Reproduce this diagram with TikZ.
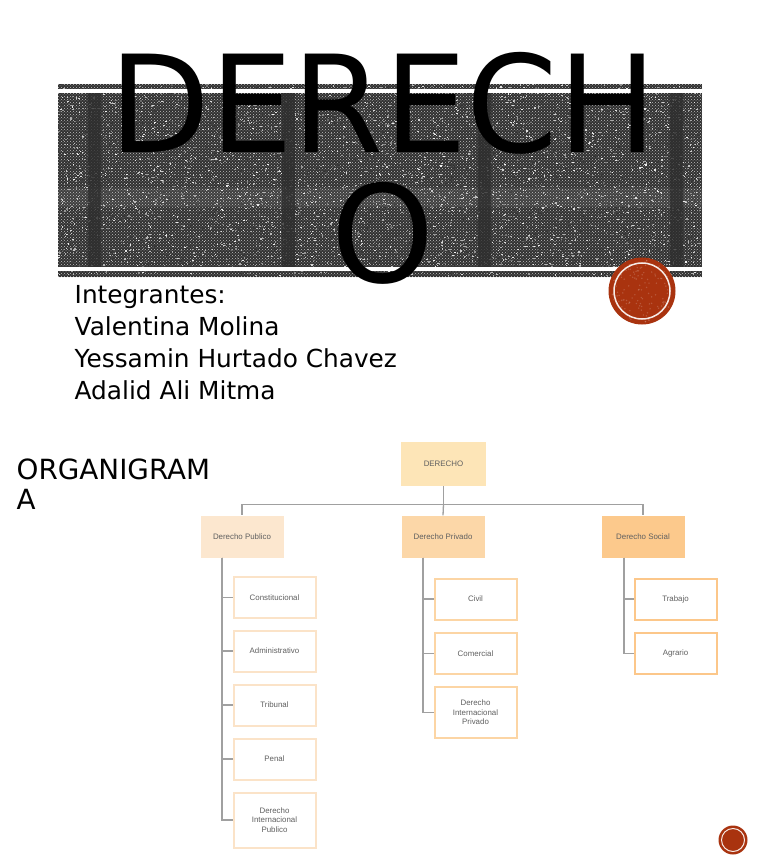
\documentclass[tikz,border=0pt]{standalone}
\usepackage{fontspec}
\setmainfont{DejaVu Sans}
\newfontfamily\arialf{Liberation Sans}
\usetikzlibrary{patterns,calc}
\definecolor{cRoot}{HTML}{FDE5B7}
\definecolor{cPub}{HTML}{FCE7CF}
\definecolor{cPriv}{HTML}{FCD7A8}
\definecolor{cSoc}{HTML}{FCC98C}
\definecolor{lPub}{HTML}{FBE3C8}
\definecolor{lPriv}{HTML}{FCD5A4}
\definecolor{lSoc}{HTML}{FCC78A}
\definecolor{txtg}{HTML}{606060}
\definecolor{lineg}{HTML}{A0A0A0}
\definecolor{redc}{HTML}{A9330F}
\definecolor{bandark}{HTML}{303030}
\tikzset{
  boxtext/.style={font=\arialf\fontsize{7.9}{9.4}\selectfont, text=txtg, align=center, inner sep=0pt},
  headbox/.style={boxtext, minimum width=83, minimum height=42},
  leafbox/.style={boxtext, draw, line width=2, fill=white, minimum width=82, minimum height=41},
  conn/.style={draw=lineg, line width=1.3},
  bigtxt/.style={font=\fontsize{135}{135}\selectfont, inner sep=0pt, anchor=base},
  memtxt/.style={font=\fontsize{24.8}{29}\selectfont, inner sep=0pt, anchor=base west},
  orgtxt/.style={font=\fontsize{27.8}{30}\selectfont, inner sep=0pt, anchor=base west}
}
\begin{document}
\begin{tikzpicture}[x=1pt,y=-1pt]
\useasboundingbox (0,0) rectangle (768,866);
\fill[white] (0,0) rectangle (768,866);
% banner
\fill[bandark] (58,84) rectangle (702,277);
\fill[pattern=crosshatch dots, pattern color=gray!50] (58,84) rectangle (702,277);
\pgfmathsetseed{11}
\foreach \i in {1,...,4200}{
  \pgfmathsetmacro\xx{58+642*rnd}
  \pgfmathsetmacro\yy{84+191*rnd}
  \pgfmathsetmacro\gg{35+60*rnd}
  \fill[white!\gg!black] (\xx,\yy) rectangle ++(1.4,1.1);
}
\foreach \i in {1,...,900}{
  \pgfmathsetmacro\xx{58+642*rnd}
  \pgfmathsetmacro\yy{84+191*rnd}
  \fill[black!75] (\xx,\yy) rectangle ++(2.2,1.6);
}
\fill[white,opacity=0.07] (58,188) rectangle (702,207);
\foreach \bx in {88,282,478,670}{
  \fill[black!82,opacity=0.8] (\bx,93) rectangle ++(13,174);
}
\fill[white] (58,89.5) rectangle (702,93);
\fill[white] (58,267.5) rectangle (702,271.5);
% title
\node[bigtxt] (t1) at (383,153) {\scalebox{0.97}[1]{DERECH}};
\node[bigtxt] (t2) at (383,283) {\scalebox{0.97}[1]{O}};
% red circles
\fill[redc] (642,291) circle (33.5);
\pgfmathsetseed{5}
\foreach \i in {1,...,120}{
  \pgfmathsetmacro\aa{360*rnd}
  \pgfmathsetmacro\rr{31*sqrt(rnd)}
  \fill[white,opacity=0.18] ($(642,291)+(\aa:\rr)$) circle (0.8);
}
\draw[white!90!redc, line width=1.5] (642,291) circle (28);
\fill[redc] (733,840) circle (14.5);
\draw[white!90!redc, line width=1] (733,840) circle (11.5);
% members
\node[memtxt] (m0) at (74.5,303.5) {Integrantes:};
\node[memtxt] (m1) at (74.5,335) {Valentina Molina};
\node[memtxt] (m2) at (74.5,367.5) {Yessamin Hurtado Chavez};
\node[memtxt] (m3) at (74.5,399.5) {Adalid Ali Mitma};
% organigrama title
\node[orgtxt] (o1) at (16.5,479.5) {ORGANIGRAM};
\node[orgtxt] (o2) at (16.5,509.5) {A};
% org chart
\node[headbox, fill=cRoot, minimum width=85, minimum height=44] (root) at (443.5,464) {DERECHO};
\node[headbox, fill=cPub] (pub) at (242,536.5) {Derecho Publico};
\node[headbox, fill=cPriv] (priv) at (443,536.5) {Derecho Privado};
\node[headbox, fill=cSoc] (soc) at (643,536.5) {Derecho Social};
\draw[conn] (root.south) -- ++(0,18) coordinate (hub);
\draw[conn] (hub) -| (pub.north);
\draw[conn] (hub) -| (soc.north);
\draw[conn] (hub) -- (priv.north);
% publico leaves
\node[leafbox, draw=lPub] (p1) at (274.5,597.5) {Constitucional};
\node[leafbox, draw=lPub] (p2) at (274.5,651) {Administrativo};
\node[leafbox, draw=lPub] (p3) at (274.5,705) {Tribunal};
\node[leafbox, draw=lPub] (p4) at (274.5,759) {Penal};
\node[leafbox, draw=lPub, minimum height=55] (p5) at (274.5,820) {Derecho\\Internacional\\Publico};
\foreach \c in {p1,p2,p3,p4,p5}{\draw[conn] ([xshift=-20]pub.south) |- (\c.west);}
% privado leaves
\node[leafbox, draw=lPriv] (v1) at (475.5,599) {Civil};
\node[leafbox, draw=lPriv] (v2) at (475.5,653.5) {Comercial};
\node[leafbox, draw=lPriv, minimum height=51] (v3) at (475.5,712.5) {Derecho\\Internacional\\Privado};
\foreach \c in {v1,v2,v3}{\draw[conn] ([xshift=-20]priv.south) |- (\c.west);}
% social leaves
\node[leafbox, draw=lSoc] (s1) at (675.5,599) {Trabajo};
\node[leafbox, draw=lSoc] (s2) at (675.5,653.5) {Agrario};
\foreach \c in {s1,s2}{\draw[conn] ([xshift=-19]soc.south) |- (\c.west);}
\end{tikzpicture}
\end{document}
